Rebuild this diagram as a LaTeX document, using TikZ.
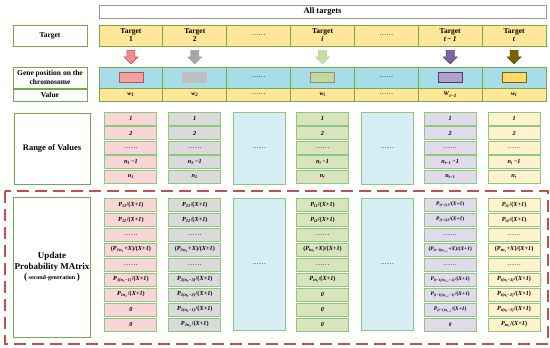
\documentclass[tikz,border=0pt]{standalone}
\usepackage{fontspec}
\setmainfont{Liberation Serif}
\newcommand\sixdot{{\mdseries\fontsize{7}{7}\selectfont……}}
\newcommand\pv[1]{\textit{P}\textsubscript{\textit{#1}}}
\newcommand\sbs[1]{\textsubscript{#1}}
\newcommand\ov{/(\textit{X}+\textit{1})}
\definecolor{boxgreen}{HTML}{70AD47}
\definecolor{cellgreen}{HTML}{8CC97A}
\definecolor{hdryellow}{HTML}{FFE699}
\definecolor{hdrblue}{HTML}{A8DCE8}
\definecolor{dotsblue}{HTML}{D5EEF4}
\definecolor{framered}{HTML}{C0504D}
\definecolor{pinkcell}{HTML}{F9D6D6}
\definecolor{graycell}{HTML}{DADADA}
\definecolor{greencell}{HTML}{D8E4BC}
\definecolor{purplecell}{HTML}{E1DAEB}
\definecolor{yellowcell}{HTML}{FFF2CC}
\definecolor{pinkarrow}{HTML}{F28C8C}
\definecolor{grayarrow}{HTML}{A6A6A6}
\definecolor{greenarrow}{HTML}{C3DDA9}
\definecolor{purplearrow}{HTML}{8064A2}
\definecolor{brownarrow}{HTML}{7F6000}
\definecolor{pinkgene}{HTML}{F2A0A0}
\definecolor{graygene}{HTML}{BFBFBF}
\definecolor{greengene}{HTML}{C4D79B}
\definecolor{purplegene}{HTML}{B1A0C7}
\definecolor{yellowgene}{HTML}{FFD966}
\begin{document}
\begin{tikzpicture}[x=1pt,y=-1pt,
	lbl/.style={draw=boxgreen,line width=0.8pt,inner sep=1pt,align=center,font=\bfseries\fontsize{7.5}{8.5}\selectfont},
	hdr/.style={draw=boxgreen,line width=0.8pt,minimum width=63.86pt,inner sep=0pt,align=center,font=\bfseries\fontsize{7.5}{8}\selectfont},
	gene/.style={minimum width=24pt,minimum height=10pt,inner sep=0pt,line width=0.6pt},
	cell/.style={draw=cellgreen,line width=1pt,minimum width=52pt,inner sep=0pt,font=\bfseries\fontsize{6.2}{7}\selectfont},
	dotsbox/.style={draw=cellgreen,line width=1pt,fill=dotsblue,minimum width=52pt,inner sep=0pt}]
	\useasboundingbox (0,0) rectangle (550,348);
	% header
	\node[hdr,minimum width=447pt,minimum height=13pt,draw=gray!80,font=\bfseries\fontsize{8.5}{9}\selectfont] (all) at (322.5,11.5) {All targets};
	\node[lbl,minimum width=74pt,minimum height=21pt] (ltarget) at (50,35.5) {Target};
	\node[lbl,minimum width=74pt,minimum height=21pt] (lgene) at (50,77.5) {Gene position on the\\chromosome};
	\node[lbl,minimum width=74pt,minimum height=12pt] (lvalue) at (50,95) {Value};
	\foreach \k/\txt in {1/{Target\\1},2/{Target\\2},3/{\sixdot},4/{Target\\\textit{i}},5/{\sixdot},6/{Target\\\textit{t}\,−\,\textit{1}},7/{Target\\\textit{t}}}
		\node[hdr,fill=hdryellow,minimum height=21pt] (tg\k) at ({99+63.86*(\k-0.5)},35.5) {\txt};
	\foreach \k in {1,...,7}
		\node[hdr,fill=hdrblue,minimum height=21pt] (gp\k) at ({99+63.86*(\k-0.5)},77.5) {};
	\node at (gp3) {\sixdot};
	\node at (gp5) {\sixdot};
	\foreach \k/\txt in {1/{\textit{w}\sbs{\textit{1}}},2/{\textit{w}\sbs{\textit{2}}},3/{\sixdot},4/{\textit{w}\sbs{\textit{i}}},5/{\sixdot},6/{\textit{W}\sbs{\textit{t−1}}},7/{\textit{w}\sbs{\textit{t}}}}
		\node[hdr,fill=hdryellow,minimum height=13pt,font=\bfseries\fontsize{6}{6.5}\selectfont] (val\k) at ({99+63.86*(\k-0.5)},94.5) {\txt};
	% arrows and gene marks
	\foreach \k/\cf/\cd/\gf/\gd in {1/pinkarrow/framered/pinkgene/framered,2/grayarrow/grayarrow/graygene/graygene,4/greenarrow/greengene/greengene/greengene!70!black,6/purplearrow/purplearrow!70!black/purplegene/purplearrow!60!black,7/brownarrow/brownarrow!70!black/yellowgene/brownarrow}{
		\draw[shift={(tg\k.south)},fill=\cf,draw=\cd,line width=0.6pt] (-4,4) -- (4,4) -- (4,10.5) -- (7,10.5) -- (0,17.5) -- (-7,10.5) -- (-4,10.5) -- cycle;
		\node[gene,fill=\gf,draw=\gd] (gm\k) at (gp\k) {};
	}
	% range of values
	\node[lbl,minimum width=76pt,minimum height=71pt,font=\bfseries\fontsize{8.5}{10}\selectfont] (lrange) at (52,148.5) {Range of Values};
	\foreach \k/\s/\f in {1/1/pinkcell,2/2/graycell,4/i/greencell,6/{t−1}/purplecell,7/t/yellowcell}
		\foreach \r/\v in {1/{\textit{1}},2/{\textit{2}},3/{\sixdot},4/{\textit{n}\sbs{\textit{\s}}\,−\textit{1}},5/{\textit{n}\sbs{\textit{\s}}}}
			\node[cell,fill=\f,minimum height=13pt] (rg\k-\r) at ({99+63.86*(\k-0.5)},{118.5+14.6*(\r-1)}) {\v};
	\node[dotsbox,minimum height=72pt] (rg3) at (259,148) {\sixdot};
	\node[dotsbox,minimum height=72pt] (rg5) at (387,148) {\sixdot};
	% update probability matrix
	\draw[framered,dash pattern=on 12pt off 6pt,line width=1.4pt] (5,191) rectangle (548,344);
	\node[lbl,minimum width=76pt,minimum height=140pt,font=\bfseries\fontsize{9}{10.5}\selectfont] (lupdate) at (52,267) {Update\\Probability MAtrix\\(\,{\fontsize{6}{7}\selectfont second-generation}\,)};
	\foreach \v [count=\r] in {{\pv{11}\ov},{\pv{12}\ov},{\sixdot},{(\pv{1w\sbs{1}}+\textit{X})\ov},{\sixdot},{\pv{1(n\sbs{1}−1)}\ov},{\pv{1n\sbs{1}}\ov},{\textit{0}},{\textit{0}}}
		\node[cell,fill=pinkcell,minimum height=13.5pt] (up1-\r) at (130.9,{204.75+15*(\r-1)}) {\v};
	\foreach \v [count=\r] in {{\pv{21}\ov},{\pv{22}\ov},{\sixdot},{(\pv{2w\sbs{2}}+\textit{X})\ov},{\sixdot},{\pv{2(n\sbs{2}−3)}\ov},{\pv{2(n\sbs{2}−2)}\ov},{\pv{2(n\sbs{2}−1)}\ov},{\pv{2n\sbs{2}}\ov}}
		\node[cell,fill=graycell,minimum height=13.5pt] (up2-\r) at (194.8,{204.75+15*(\r-1)}) {\v};
	\foreach \v [count=\r] in {{\pv{i1}\ov},{\pv{i2}\ov},{\sixdot},{(\pv{iw\sbs{i}}+\textit{X})\ov},{\sixdot},{\pv{in\sbs{i}}\ov},{\textit{0}},{\textit{0}},{\textit{0}}}
		\node[cell,fill=greencell,minimum height=13.5pt] (up4-\r) at (322.5,{204.75+15*(\r-1)}) {\v};
	\foreach \v [count=\r] in {{\pv{(t−1)1}\ov},{\pv{(t−1)2}\ov},{\sixdot},{(\pv{(t−1)w\sbs{t−1}}+\textit{X})\ov},{\sixdot},{\pv{(t−1)(n\sbs{t−1}−2)}\ov},{\pv{(t−1)(n\sbs{t−1}−1)}\ov},{\pv{(t−1)n\sbs{t−1}}\ov},{\textit{0}}}
		\node[cell,fill=purplecell,minimum height=13.5pt,font=\bfseries\fontsize{5.4}{6}\selectfont] (up6-\r) at (450.2,{204.75+15*(\r-1)}) {\v};
	\foreach \v [count=\r] in {{\pv{t1}\ov},{\pv{t2}\ov},{\sixdot},{(\pv{tw\sbs{t}}+\textit{X})\ov},{\sixdot},{\pv{t(n\sbs{t}−3)}\ov},{\pv{t(n\sbs{t}−2)}\ov},{\pv{t(n\sbs{t}−1)}\ov},{\pv{tn\sbs{t}}\ov}}
		\node[cell,fill=yellowcell,minimum height=13.5pt] (up7-\r) at (514.1,{204.75+15*(\r-1)}) {\v};
	\node[dotsbox,minimum height=132pt] (up3) at (259,264) {\sixdot};
	\node[dotsbox,minimum height=132pt] (up5) at (387,264) {\sixdot};
\end{tikzpicture}
\end{document}
